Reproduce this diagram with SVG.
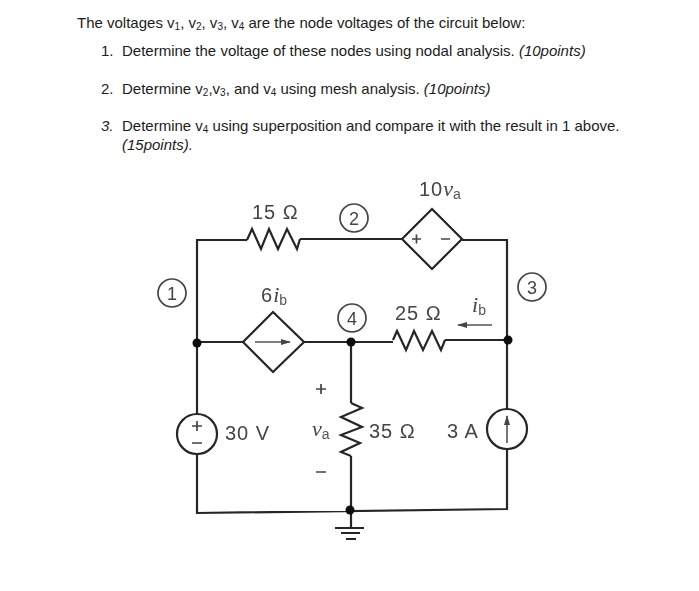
<svg xmlns="http://www.w3.org/2000/svg" width="699" height="591" viewBox="0 0 699 591">
<style>
text{font-family:"Liberation Sans",Arial,sans-serif;}
.q{font-size:15px;fill:#1c1c1c}
.i{font-style:italic}
.s{font-size:10px}
.l{font-size:20px;fill:#444;letter-spacing:1px}
.e{font-family:"Liberation Serif",serif;font-style:italic;font-size:22px;fill:#444;letter-spacing:0}
.u{font-family:"Liberation Sans",sans-serif;font-style:normal;font-size:14px;fill:#555;letter-spacing:0}
.w{fill:none;stroke:#262626;stroke-width:2.2;stroke-linejoin:miter}
.t{fill:none;stroke:#444;stroke-width:1.7}
.n{font-size:18px;fill:#444;text-anchor:middle}
.d{fill:#111}
.m{fill:none;stroke:#555;stroke-width:1.6}
.c{filter:url(#soft)}
</style>
<defs>
<filter id="soft" x="-20%" y="-20%" width="140%" height="140%"><feGaussianBlur stdDeviation="0.55"/></filter>
<marker id="ah" markerWidth="10" markerHeight="6" refX="9" refY="3" orient="auto" markerUnits="userSpaceOnUse"><path d="M0 0L10 3L0 6z" fill="#444"/></marker>
</defs>
<rect width="699" height="591" fill="#fff"/>
<g id="question">
<text class="q" x="77" y="28">The voltages v<tspan class="s" dy="2">1</tspan><tspan dy="-2">, v</tspan><tspan class="s" dy="2">2</tspan><tspan dy="-2">, v</tspan><tspan class="s" dy="2">3</tspan><tspan dy="-2">, v</tspan><tspan class="s" dy="2">4</tspan><tspan dy="-2"> are the node voltages of the circuit below:</tspan></text>
<text class="q" x="101" y="56">1.</text>
<text class="q" x="122" y="56">Determine the voltage of these nodes using nodal analysis. <tspan class="i">(10points)</tspan></text>
<text class="q" x="101" y="94">2.</text>
<text class="q" x="122" y="94">Determine v<tspan class="s" dy="2">2</tspan><tspan dy="-2">,v</tspan><tspan class="s" dy="2">3</tspan><tspan dy="-2">, and v</tspan><tspan class="s" dy="2">4</tspan><tspan dy="-2"> using mesh analysis. </tspan><tspan class="i">(10points)</tspan></text>
<text class="q i" x="101" y="131">3.</text>
<text class="q" x="122" y="131">Determine v<tspan class="s" dy="2">4</tspan><tspan dy="-2"> using superposition and compare it with the result in 1 above.</tspan></text>
<text class="q i" x="122" y="150">(15points).</text>
</g>
<g id="connectors" class="c">
<path class="w" d="M247 240H197V414M197 454V513L507 509V449M507 409V240H462M402 239H300M197 342H243M304 342H393M445 340H508M351 342V403M351 456V527"/>
</g>
<g id="r15" class="c"><path class="w" d="M247 240L252 229L261 249L269 229L278 249L287 229L297 249L300 239"/><text class="l" x="252" y="219">15 Ω</text></g>
<g id="r25" class="c"><path class="w" d="M393 340L397 331L406 350L414 331L423 350L432 331L441 350L445 340"/><text class="l" x="395" y="320">25 Ω</text></g>
<g id="r35" class="c"><path class="w" d="M351 403L362 408L341 417L362 427L341 435L360 443L341 452L351 456"/><text class="l" x="369" y="438">35 Ω</text></g>
<g id="e10" class="c"><path class="w" d="M432 209L462 239L432 269L402 239Z"/><path class="t" d="M412 239h9M416.500 234.500v9M441 239h9"/><text class="l" x="419" y="196">10<tspan class="e">v</tspan><tspan class="u" dy="3">a</tspan></text></g>
<g id="f6" class="c"><path class="w" d="M273 312L304 342L273 372L243 342Z"/><path class="m" marker-end="url(#ah)" d="M255 342H290"/><text class="l" x="261" y="302">6<tspan class="e">i</tspan><tspan class="u" dy="3">b</tspan></text></g>
<g id="v30" class="c"><circle class="w" cx="197" cy="434" r="20"/><path class="t" d="M192 426h10M197 421v10M192 443h10"/><text class="l" x="225" y="440">30 V</text></g>
<g id="i3" class="c"><circle class="w" cx="507" cy="429" r="20"/><path class="m" marker-end="url(#ah)" d="M507 443V416"/><text class="l" x="447" y="438">3 A</text></g>
<g id="ib" class="c"><path class="m" marker-end="url(#ah)" d="M492 325H458"/><text class="e" x="472" y="312" font-size="18">i<tspan class="u" dy="3">b</tspan></text></g>
<g id="va" class="c"><text class="e" x="312" y="436">v<tspan class="u" dy="3">a</tspan></text><path class="t" d="M316 389h10M321 384v10M316 472h10"/></g>
<g id="ground" class="c"><path class="w" d="M335 528H364M341 533H360M346 539H356"/></g>
<g id="dots" class="c"><circle class="d" cx="197" cy="343" r="4.500"/><circle class="d" cx="351" cy="342" r="4.500"/><circle class="d" cx="508" cy="340" r="4.500"/><circle class="d" cx="350" cy="510" r="4.500"/></g>
<g id="node1" class="c"><circle class="t" cx="172" cy="293" r="14"/><text class="n" x="172" y="299.500">1</text></g>
<g id="node2" class="c"><circle class="t" cx="354" cy="218" r="14"/><text class="n" x="354" y="224.500">2</text></g>
<g id="node3" class="c"><circle class="t" cx="532" cy="287" r="14"/><text class="n" x="532" y="293.500">3</text></g>
<g id="node4" class="c"><circle class="t" cx="352" cy="318" r="14"/><text class="n" x="352" y="324.500">4</text></g>
</svg>
